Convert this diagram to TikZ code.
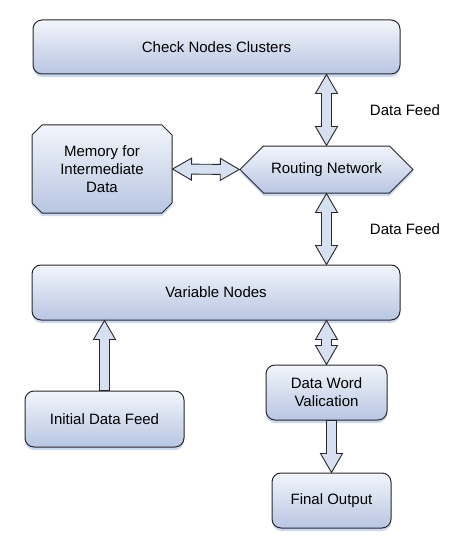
\documentclass[tikz,border=0pt]{standalone}
\usepackage{fontspec}
\setmainfont{Liberation Sans}
\usetikzlibrary{calc,shadows,shapes.misc,shapes.symbols}
\definecolor{boxtop}{RGB}{242,245,251}
\definecolor{boxbot}{RGB}{184,198,226}
\definecolor{boxedge}{RGB}{40,40,45}
\definecolor{arrowfill}{RGB}{214,224,240}
\definecolor{glow}{RGB}{170,190,228}

\begin{document}
\begin{tikzpicture}[x=1pt, y=-1pt,
    box/.style={draw=boxedge, line width=1pt, rounded corners=9pt,
                top color=boxtop, bottom color=boxbot, align=center,
                inner sep=0pt, font=\fontsize{15}{18}\selectfont,
                drop shadow={shadow xshift=0pt, shadow yshift=-3pt, fill=glow, opacity=.6}},
    lbl/.style={font=\fontsize{15}{18}\selectfont},
    dbl/.style={draw=boxedge, line width=.9pt, fill=arrowfill, line join=miter,
      to path={
        -- ($(\tikztostart)!19pt!(\tikztotarget)!11pt!-90:(\tikztotarget)$)
        -- ($(\tikztostart)!19pt!(\tikztotarget)!5pt!-90:(\tikztotarget)$)
        -- ($(\tikztotarget)!19pt!(\tikztostart)!5pt!90:(\tikztostart)$)
        -- ($(\tikztotarget)!19pt!(\tikztostart)!11pt!90:(\tikztostart)$)
        -- (\tikztotarget)
        -- ($(\tikztotarget)!19pt!(\tikztostart)!11pt!-90:(\tikztostart)$)
        -- ($(\tikztotarget)!19pt!(\tikztostart)!5pt!-90:(\tikztostart)$)
        -- ($(\tikztostart)!19pt!(\tikztotarget)!5pt!90:(\tikztotarget)$)
        -- ($(\tikztostart)!19pt!(\tikztotarget)!11pt!90:(\tikztotarget)$)
        -- cycle}},
    fat/.style={draw=boxedge, line width=.9pt, fill=arrowfill, line join=miter,
      to path={
        -- ($(\tikztostart)!5pt!-90:(\tikztotarget)$)
        -- ($(\tikztotarget)!19pt!(\tikztostart)!5pt!90:(\tikztostart)$)
        -- ($(\tikztotarget)!19pt!(\tikztostart)!11pt!90:(\tikztostart)$)
        -- (\tikztotarget)
        -- ($(\tikztotarget)!19pt!(\tikztostart)!11pt!-90:(\tikztostart)$)
        -- ($(\tikztotarget)!19pt!(\tikztostart)!5pt!-90:(\tikztostart)$)
        -- ($(\tikztostart)!5pt!90:(\tikztotarget)$)
        -- cycle}}
]
\useasboundingbox (0,0) rectangle (454,559);

\node[box, minimum width=367pt, minimum height=54pt] (chk) at (216.5,47) {Check Nodes Clusters};
\node[box, sharp corners, chamfered rectangle, chamfered rectangle xsep=5pt,
      chamfered rectangle ysep=5pt, minimum width=140pt, minimum height=88pt]
      (mem) at (102,169) {Memory for\\Intermediate\\Data};
\node[box, sharp corners, signal, signal to=west and east, signal pointer angle=90,
      minimum width=173pt, minimum height=47pt] (rout) at (326.5,169.5) {Routing Network};
\node[box, minimum width=368pt, minimum height=55pt] (var) at (216,292.5) {Variable Nodes};
\node[box, minimum width=159pt, minimum height=56pt] (init) at (104.5,419) {Initial Data Feed};
\node[box, minimum width=121pt, minimum height=55pt] (dwv) at (326.5,392.5) {Data Word\\Valication};
\node[box, minimum width=119pt, minimum height=55pt] (fin) at (331.5,500.5) {Final Output};

\node[lbl] (feedA) at (405,110) {Data Feed};
\node[lbl] (feedB) at (405,229) {Data Feed};

\draw[dbl] (chk.south -| rout.north) to (rout.north);
\draw[dbl] (mem.east) to (rout.west);
\draw[dbl] (rout.south) to (rout.south |- var.north);
\draw[dbl] (var.south -| dwv.north) to (dwv.north);
\draw[fat] (init.north) to (init.north |- var.south);
\draw[fat] (dwv.south -| fin.north) to (fin.north);
\end{tikzpicture}
\end{document}
